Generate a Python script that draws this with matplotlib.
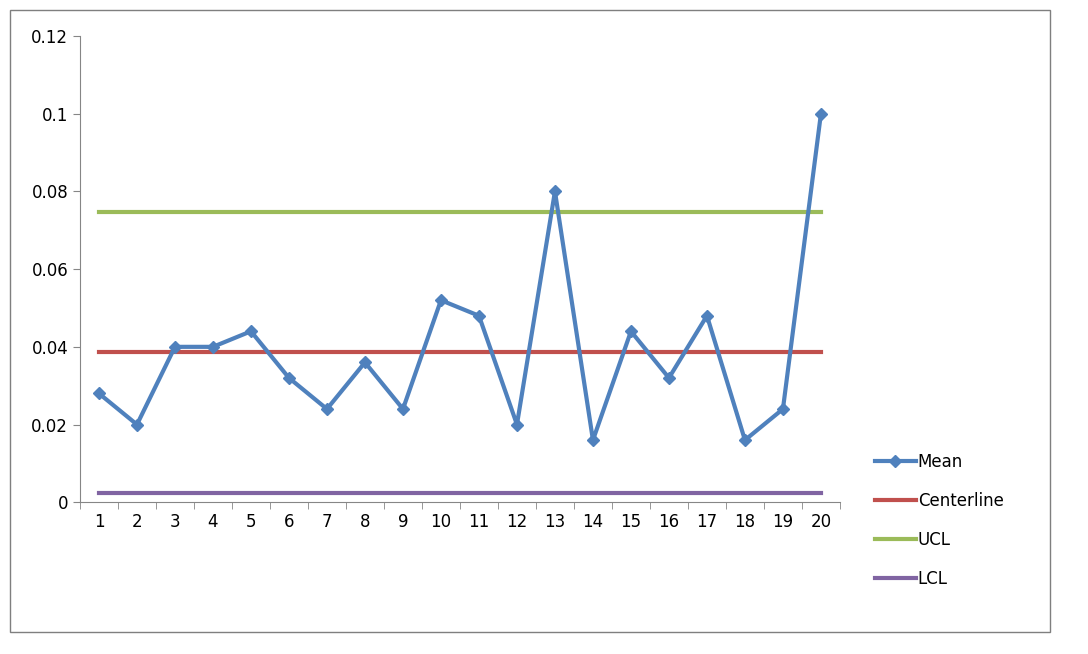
import matplotlib.pyplot as plt
import numpy as np
from matplotlib.patches import Rectangle

samples = list(range(1, 21))
mean = [0.028, 0.020, 0.040, 0.040, 0.044, 0.032, 0.024, 0.036, 0.024, 0.052,
        0.048, 0.020, 0.080, 0.016, 0.044, 0.032, 0.048, 0.016, 0.024, 0.100]
centerline = 0.0387
ucl = 0.0747
lcl = 0.0023

fig = plt.figure(figsize=(10.88, 6.54), dpi=100)
fig.patches.append(Rectangle((0.009, 0.034), 0.956, 0.95, transform=fig.transFigure,
                             fill=False, edgecolor='#7f7f7f', linewidth=1))
ax = fig.add_axes([0.0735, 0.232, 0.6985, 0.713])

n = len(samples)
ax.plot(samples, mean, color='#4f81bd', lw=3, marker='D', ms=6, label='Mean', zorder=3)
ax.plot(samples, [centerline] * n, color='#c0504d', lw=3, label='Centerline')
ax.plot(samples, [ucl] * n, color='#9bbb59', lw=3, label='UCL')
ax.plot(samples, [lcl] * n, color='#8064a2', lw=3, label='LCL')

ax.set_xlim(0.5, n + 0.5)
ax.set_ylim(0, 0.12)
ax.set_yticks([0, 0.02, 0.04, 0.06, 0.08, 0.1, 0.12])
ax.set_yticklabels(['0', '0.02', '0.04', '0.06', '0.08', '0.1', '0.12'])
ax.set_xticks(samples)
ax.set_xticks(np.arange(0.5, n + 1, 1), minor=True)
ax.tick_params(axis='x', which='major', length=0, labelsize=12, pad=8)
ax.tick_params(axis='x', which='minor', length=5, color='#868686', direction='out')
ax.tick_params(axis='y', length=5, color='#868686', labelsize=12)
for s in ['top', 'right']:
    ax.spines[s].set_visible(False)
for s in ['left', 'bottom']:
    ax.spines[s].set_color('#868686')

fig.legend(loc='upper left', bbox_to_anchor=(0.79, 0.33), frameon=False,
           fontsize=12, handlelength=2.5, labelspacing=1.25, handletextpad=0.1)

fig.savefig('out.png', dpi=100)
